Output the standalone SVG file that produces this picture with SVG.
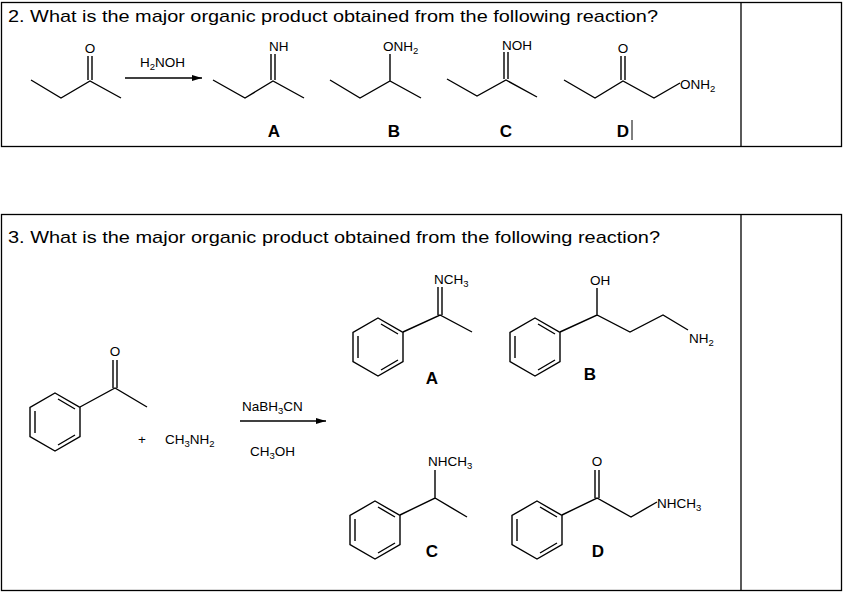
<svg xmlns="http://www.w3.org/2000/svg" width="852" height="592" viewBox="0 0 852 592">
<defs>
<style>
.b{fill:none;stroke:#000;stroke-width:1.4}
.f{fill:none;stroke:#000;stroke-width:1.3}
.q{font-family:"Liberation Sans",Arial,sans-serif;font-size:17px;fill:#000}
.m{font-family:"Liberation Sans",Arial,sans-serif;font-size:13.5px;fill:#000}
.l{font-family:"Liberation Sans",Arial,sans-serif;font-size:17px;font-weight:bold;fill:#000;text-anchor:middle}
</style>
<marker id="ah" markerWidth="10" markerHeight="6" refX="10" refY="3" orient="auto" markerUnits="userSpaceOnUse"><path d="M0,0 L10,3 L0,6 Z" fill="#000"/></marker>
<g id="ring"><polygon class="b" points="0,-29 25,-14.5 25,14.5 0,29 -25,14.5 -25,-14.5"/><path class="b" d="M-20,-11 V11 M3,-23 L20,-13 M20,13 L3,23"/></g>
</defs>
<rect width="852" height="592" fill="#fff"/>
<g id="frames" class="f">
<rect x="1.5" y="2.5" width="840" height="144"/>
<line x1="741" y1="2.5" x2="741" y2="146.5"/>
<rect x="1.5" y="214.5" width="840" height="376"/>
<line x1="741" y1="214.5" x2="741" y2="590.5"/>
</g>
<text class="q" x="8" y="22" textLength="650" lengthAdjust="spacingAndGlyphs">2. What is the major organic product obtained from the following reaction?</text>
<text class="q" x="8" y="243" textLength="652" lengthAdjust="spacingAndGlyphs">3. What is the major organic product obtained from the following reaction?</text>
<g id="q2">
<path class="b" d="M31,80 L61,98 L90,81 L121,98 M88,80 V56 M92,80 V56"/>
<text class="m" x="90" y="53" text-anchor="middle">O</text>
<line class="b" x1="125" y1="78" x2="202" y2="78" marker-end="url(#ah)"/>
<text class="m" x="140" y="67">H<tspan font-size="9.5" dy="3">2</tspan><tspan dy="-3">NOH</tspan></text>
<path class="b" d="M213,80 L245,98 L273,81 L304,98 M271,80 V54 M275,80 V54"/>
<text class="m" x="269" y="51">NH</text>
<path class="b" d="M330,80 L360,98 L390,81 L421,98 M390,81 V54"/>
<text class="m" x="383" y="51">ONH<tspan font-size="9.5" dy="3">2</tspan></text>
<path class="b" d="M447,79 L477,96 L506,80 L537,97 M504,79 V52 M508,79 V52"/>
<text class="m" x="502" y="50">NOH</text>
<path class="b" d="M564,80 L595,98 L623,81 L654,98 L680,83 M621,80 V56 M625,80 V56"/>
<text class="m" x="623" y="53" text-anchor="middle">O</text>
<text class="m" x="680" y="89">ONH<tspan font-size="9.5" dy="3">2</tspan></text>
<text class="l" x="274" y="137">A</text>
<text class="l" x="394" y="137">B</text>
<text class="l" x="506" y="137">C</text>
<text class="l" x="623" y="137">D</text>
<line x1="632" y1="120" x2="632" y2="140" stroke="#000" stroke-width="1"/>
</g>
<g id="q3">
<use href="#ring" x="55" y="422"/>
<path class="b" d="M80,407 L115,388 L147,407 M113,388 V360 M117,388 V360"/>
<text class="m" x="115" y="356" text-anchor="middle">O</text>
<text class="m" x="138" y="444">+</text>
<text class="m" x="165" y="444">CH<tspan font-size="9.5" dy="3">3</tspan><tspan dy="-3">NH</tspan><tspan font-size="9.5" dy="3">2</tspan></text>
<text class="m" x="242" y="411">NaBH<tspan font-size="9.5" dy="3">3</tspan><tspan dy="-3">CN</tspan></text>
<line class="b" x1="240" y1="421" x2="326" y2="421" marker-end="url(#ah)"/>
<text class="m" x="250" y="456">CH<tspan font-size="9.5" dy="3">3</tspan><tspan dy="-3">OH</tspan></text>

<use href="#ring" x="378" y="347"/>
<path class="b" d="M403,332 L440,315 L472,332 M438,315 V287 M442,315 V287"/>
<text class="m" x="434" y="284">NCH<tspan font-size="9.5" dy="3">3</tspan></text>
<text class="l" x="432" y="384">A</text>

<use href="#ring" x="535" y="347"/>
<path class="b" d="M560,332 L597,315 L630,332 L663,315 L688,330 M597,315 V288"/>
<text class="m" x="590" y="285">OH</text>
<text class="m" x="689" y="343">NH<tspan font-size="9.5" dy="3">2</tspan></text>
<text class="l" x="590" y="380">B</text>

<use href="#ring" x="375" y="530"/>
<path class="b" d="M400,515 L435,498 L467,517 M435,498 V470"/>
<text class="m" x="428" y="466">NHCH<tspan font-size="9.5" dy="3">3</tspan></text>
<text class="l" x="432" y="557">C</text>

<use href="#ring" x="537" y="530"/>
<path class="b" d="M562,515 L597,498 L631,517 L657,502 M595,498 V470 M599,498 V470"/>
<text class="m" x="597" y="466" text-anchor="middle">O</text>
<text class="m" x="657" y="508">NHCH<tspan font-size="9.5" dy="3">3</tspan></text>
<text class="l" x="598" y="557">D</text>
</g>
</svg>
